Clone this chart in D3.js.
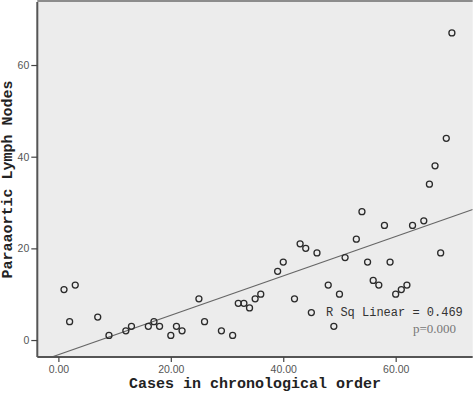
<!DOCTYPE html>
<html>
<head>
<meta charset="utf-8">
<script src="https://cdn.jsdelivr.net/npm/d3@7"></script>
<style>
    body { margin: 0; background: #fff; }
    svg { display: block; }
</style>
</head>
<body>
<div id="chart"></div>
<script>
// cases (x) and paraaortic lymph node counts (y)
var cases = [1, 2, 3, 7, 9, 12, 13, 16, 17, 18, 20, 21, 22, 25, 26, 29, 31, 32, 33, 34,
    35, 36, 39, 40, 42, 43, 44, 45, 46, 48, 49, 50, 51, 53, 54, 55, 56, 57, 58, 59,
    60, 61, 62, 63, 65, 66, 67, 68, 69, 70];
var nodes = [11, 4, 12, 5, 1, 2, 3, 3, 4, 3, 1, 3, 2, 9, 4, 2, 1, 8, 8, 7,
    9, 10, 15, 17, 9, 21, 20, 6, 19, 12, 3, 10, 18, 22, 28, 17, 13, 12, 25, 17,
    10, 11, 12, 25, 26, 34, 38, 19, 44, 67];
var xTicks = [0, 20, 40, 60];
var yTicks = [0, 20, 40, 60];
// fit line as drawn in the figure
var fitIntercept = -3.2;
var fitSlope = 0.43;
var rsqLabel = "R Sq Linear = 0.469";
var pLabel = "p=0.000";

var width = 474, height = 393;
var svg = d3.select("#chart").append("svg")
    .attr("width", width)
    .attr("height", height);

var x = d3.scaleLinear().domain([-3.75, 73.7]).range([37.3, 472.7]);
var y = d3.scaleLinear().domain([-3.7, 73.75]).range([357, 2]);

// plot background
svg.append("rect")
    .attr("x", x.range()[0])
    .attr("y", y.range()[1])
    .attr("width", x.range()[1] - x.range()[0])
    .attr("height", y.range()[0] - y.range()[1])
    .attr("fill", "#ececec");

// top frame edge
svg.append("line")
    .attr("x1", x.range()[0]).attr("x2", x.range()[1])
    .attr("y1", 1).attr("y2", 1)
    .attr("stroke", "#8c8c8c").attr("stroke-width", 2);

var clip = svg.append("clipPath").attr("id", "plotclip")
    .append("rect")
    .attr("x", x.range()[0])
    .attr("y", y.range()[1])
    .attr("width", x.range()[1] - x.range()[0])
    .attr("height", y.range()[0] - y.range()[1]);

// regression line
var x0 = x.domain()[0], x1 = x.domain()[1];
svg.append("line")
    .attr("clip-path", "url(#plotclip)")
    .attr("x1", x(x0)).attr("y1", y(fitIntercept + fitSlope * x0))
    .attr("x2", x(x1)).attr("y2", y(fitIntercept + fitSlope * x1))
    .attr("stroke", "#666")
    .attr("stroke-width", 1.1);

// points
svg.append("g")
    .selectAll("circle")
    .data(cases)
    .enter()
    .append("circle")
    .attr("cx", function(d) { return x(d); })
    .attr("cy", function(d, i) { return y(nodes[i]); })
    .attr("r", 3)
    .attr("fill", "none")
    .attr("stroke", "#2a2a2a")
    .attr("stroke-width", 1.3);

// axes
var xAxis = svg.append("g")
    .attr("transform", "translate(0," + y.range()[0] + ")")
    .call(d3.axisBottom(x).tickValues(xTicks).tickSize(5).tickPadding(4)
        .tickFormat(d3.format(".2f")));
var yAxis = svg.append("g")
    .attr("transform", "translate(" + x.range()[0] + ",0)")
    .call(d3.axisLeft(y).tickValues(yTicks).tickSize(6).tickPadding(2)
        .tickFormat(d3.format("d")));

[xAxis, yAxis].forEach(function(ax) {
    ax.select(".domain").attr("stroke", "#555").attr("stroke-width", 2);
    ax.selectAll(".tick line").attr("stroke", "#444").attr("stroke-width", 1.2);
    ax.selectAll(".tick text")
        .attr("fill", "#555")
        .style("font-family", "'Liberation Sans', sans-serif")
        .style("font-size", "10.5px");
});
// domain paths drawn by d3 have outer ticks of 0 width here
xAxis.select(".domain").attr("d", "M" + x.range()[0] + ",0H" + x.range()[1]);
yAxis.select(".domain").attr("d", "M0," + y.range()[0] + "V" + y.range()[1]);

// fit annotations
svg.append("text")
    .attr("x", 326)
    .attr("y", 316)
    .attr("fill", "#333")
    .style("font-family", "'Liberation Mono', monospace")
    .style("font-size", "12px")
    .text(rsqLabel);
svg.append("text")
    .attr("x", 456)
    .attr("y", 333)
    .attr("text-anchor", "end")
    .attr("fill", "#777")
    .style("font-family", "'Liberation Serif', serif")
    .style("font-size", "13px")
    .text(pLabel);

// axis titles
svg.append("text")
    .attr("x", (x.range()[0] + x.range()[1]) / 2)
    .attr("y", 388)
    .attr("text-anchor", "middle")
    .attr("fill", "#222")
    .style("font-family", "'Liberation Mono', monospace")
    .style("font-weight", "bold")
    .style("font-size", "15px")
    .text("Cases in chronological order");
svg.append("text")
    .attr("transform", "translate(12," + (y.range()[0] + y.range()[1]) / 2 + ") rotate(-90)")
    .attr("text-anchor", "middle")
    .attr("fill", "#222")
    .style("font-family", "'Liberation Mono', monospace")
    .style("font-weight", "bold")
    .style("font-size", "15px")
    .text("Paraaortic Lymph Nodes");
</script>
</body>
</html>
